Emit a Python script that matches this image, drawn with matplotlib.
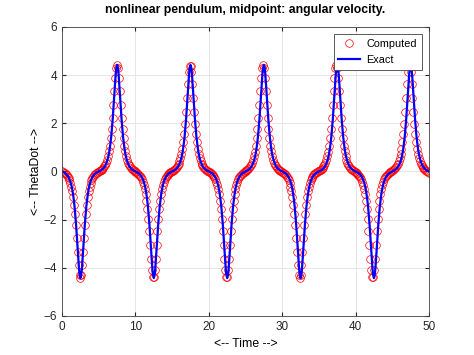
import numpy as np
import matplotlib
matplotlib.use("Agg")
import matplotlib.pyplot as plt

plt.rcParams['font.family'] = ['Liberation Sans', 'DejaVu Sans']

TITLE = "nonlinear pendulum, midpoint: angular velocity."
X_LABEL = "<-- Time -->"
Y_LABEL = "<-- ThetaDot -->"
LEGEND_LABELS = ["Computed", "Exact"]
X_TICKS = [0, 10, 20, 30, 40, 50]
Y_TICKS = [-6, -4, -2, 0, 2, 4, 6]

# exact solution, sampled every 0.1 time units from 0 to 50
exact_t_start, exact_t_end = 0.0, 50.0
exact_omega = [
    # 0 - 10
    0.00, -0.02, -0.03, -0.05, -0.07, -0.09, -0.12, -0.16, -0.20, -0.25,
    -0.32, -0.40, -0.50, -0.62, -0.77, -0.96, -1.19, -1.46, -1.80, -2.19,
    -2.64, -3.12, -3.60, -4.03, -4.32, -4.43, -4.32, -4.03, -3.60, -3.12,
    -2.64, -2.19, -1.80, -1.46, -1.19, -0.96, -0.77, -0.62, -0.50, -0.40,
    -0.32, -0.25, -0.20, -0.16, -0.12, -0.09, -0.07, -0.05, -0.03, -0.02,
    0.00, 0.02, 0.03, 0.05, 0.07, 0.09, 0.12, 0.16, 0.20, 0.25,
    0.32, 0.40, 0.50, 0.62, 0.77, 0.96, 1.19, 1.46, 1.80, 2.19,
    2.64, 3.12, 3.60, 4.03, 4.32, 4.43, 4.32, 4.03, 3.60, 3.12,
    2.64, 2.19, 1.80, 1.46, 1.19, 0.96, 0.77, 0.62, 0.50, 0.40,
    0.32, 0.25, 0.20, 0.16, 0.12, 0.09, 0.07, 0.05, 0.03, 0.02,
    # 10 - 20
    0.00, -0.02, -0.03, -0.05, -0.07, -0.09, -0.12, -0.16, -0.20, -0.25,
    -0.32, -0.40, -0.50, -0.62, -0.77, -0.96, -1.19, -1.46, -1.80, -2.19,
    -2.64, -3.12, -3.60, -4.03, -4.32, -4.43, -4.32, -4.03, -3.60, -3.12,
    -2.64, -2.19, -1.80, -1.46, -1.19, -0.96, -0.77, -0.62, -0.50, -0.40,
    -0.32, -0.25, -0.20, -0.16, -0.12, -0.09, -0.07, -0.05, -0.03, -0.02,
    0.00, 0.02, 0.03, 0.05, 0.07, 0.09, 0.12, 0.16, 0.20, 0.25,
    0.32, 0.40, 0.50, 0.62, 0.77, 0.96, 1.19, 1.46, 1.80, 2.19,
    2.64, 3.12, 3.60, 4.03, 4.32, 4.43, 4.32, 4.03, 3.60, 3.12,
    2.64, 2.19, 1.80, 1.46, 1.19, 0.96, 0.77, 0.62, 0.50, 0.40,
    0.32, 0.25, 0.20, 0.16, 0.12, 0.09, 0.07, 0.05, 0.03, 0.02,
    # 20 - 30
    0.00, -0.02, -0.03, -0.05, -0.07, -0.09, -0.12, -0.16, -0.20, -0.25,
    -0.32, -0.40, -0.50, -0.62, -0.77, -0.96, -1.19, -1.46, -1.80, -2.19,
    -2.64, -3.12, -3.60, -4.03, -4.32, -4.43, -4.32, -4.03, -3.60, -3.12,
    -2.64, -2.19, -1.80, -1.46, -1.19, -0.96, -0.77, -0.62, -0.50, -0.40,
    -0.32, -0.25, -0.20, -0.16, -0.12, -0.09, -0.07, -0.05, -0.03, -0.02,
    0.00, 0.02, 0.03, 0.05, 0.07, 0.09, 0.12, 0.16, 0.20, 0.25,
    0.32, 0.40, 0.50, 0.62, 0.77, 0.96, 1.19, 1.46, 1.80, 2.19,
    2.64, 3.12, 3.60, 4.03, 4.32, 4.43, 4.32, 4.03, 3.60, 3.12,
    2.64, 2.19, 1.80, 1.46, 1.19, 0.96, 0.77, 0.62, 0.50, 0.40,
    0.32, 0.25, 0.20, 0.16, 0.12, 0.09, 0.07, 0.05, 0.03, 0.02,
    # 30 - 40
    0.00, -0.02, -0.03, -0.05, -0.07, -0.09, -0.12, -0.16, -0.20, -0.25,
    -0.32, -0.40, -0.50, -0.62, -0.77, -0.96, -1.19, -1.46, -1.80, -2.19,
    -2.64, -3.12, -3.60, -4.03, -4.32, -4.43, -4.32, -4.03, -3.60, -3.12,
    -2.64, -2.19, -1.80, -1.46, -1.19, -0.96, -0.77, -0.62, -0.50, -0.40,
    -0.32, -0.25, -0.20, -0.16, -0.12, -0.09, -0.07, -0.05, -0.03, -0.02,
    0.00, 0.02, 0.03, 0.05, 0.07, 0.09, 0.12, 0.16, 0.20, 0.25,
    0.32, 0.40, 0.50, 0.62, 0.77, 0.96, 1.19, 1.46, 1.80, 2.19,
    2.64, 3.12, 3.60, 4.03, 4.32, 4.43, 4.32, 4.03, 3.60, 3.12,
    2.64, 2.19, 1.80, 1.46, 1.19, 0.96, 0.77, 0.62, 0.50, 0.40,
    0.32, 0.25, 0.20, 0.16, 0.12, 0.09, 0.07, 0.05, 0.03, 0.02,
    # 40 - 50
    0.00, -0.02, -0.03, -0.05, -0.07, -0.09, -0.12, -0.16, -0.20, -0.25,
    -0.32, -0.40, -0.50, -0.62, -0.77, -0.96, -1.19, -1.46, -1.80, -2.19,
    -2.64, -3.12, -3.60, -4.03, -4.32, -4.43, -4.32, -4.03, -3.60, -3.12,
    -2.64, -2.19, -1.80, -1.46, -1.19, -0.96, -0.77, -0.62, -0.50, -0.40,
    -0.32, -0.25, -0.20, -0.16, -0.12, -0.09, -0.07, -0.05, -0.03, -0.02,
    0.00, 0.02, 0.03, 0.05, 0.07, 0.09, 0.12, 0.16, 0.20, 0.25,
    0.32, 0.40, 0.50, 0.62, 0.77, 0.96, 1.19, 1.46, 1.80, 2.19,
    2.64, 3.12, 3.60, 4.03, 4.32, 4.43, 4.32, 4.03, 3.60, 3.12,
    2.64, 2.19, 1.80, 1.46, 1.19, 0.96, 0.77, 0.62, 0.50, 0.40,
    0.32, 0.25, 0.20, 0.16, 0.12, 0.09, 0.07, 0.05, 0.03, 0.02,
    0.00,
]

# midpoint method output, one value every 0.125 time units from 0 to 50
computed_t_start, computed_t_end = 0.0, 50.0
computed_omega = [
    # 0 - 5
    0.00, -0.02, -0.05, -0.08, -0.12, -0.16, -0.21, -0.28, -0.37, -0.49, -0.63,
    -0.83, -1.07, -1.38, -1.76, -2.22, -2.76, -3.34, -3.88, -4.28, -4.43,
    -4.28, -3.88, -3.34, -2.76, -2.22, -1.76, -1.38, -1.07, -0.83,
    -0.63, -0.49, -0.37, -0.28, -0.21, -0.16, -0.12, -0.08, -0.05, -0.02,
    # 5 - 10
    0.00, 0.02, 0.05, 0.08, 0.12, 0.16, 0.21, 0.28, 0.37, 0.49, 0.63,
    0.83, 1.07, 1.38, 1.76, 2.22, 2.76, 3.34, 3.88, 4.28, 4.43,
    4.28, 3.88, 3.34, 2.76, 2.22, 1.76, 1.38, 1.07, 0.83,
    0.63, 0.49, 0.37, 0.28, 0.21, 0.16, 0.11, 0.08, 0.05, 0.02,
    # 10 - 15
    -0.01, -0.03, -0.06, -0.10, -0.14, -0.18, -0.25, -0.33, -0.43, -0.56, -0.72,
    -0.94, -1.21, -1.56, -1.98, -2.49, -3.05, -3.62, -4.11, -4.39, -4.39,
    -4.11, -3.62, -3.05, -2.49, -1.98, -1.56, -1.21, -0.94, -0.73,
    -0.56, -0.43, -0.33, -0.25, -0.19, -0.14, -0.10, -0.07, -0.04, -0.01,
    # 15 - 20
    0.01, 0.04, 0.07, 0.10, 0.14, 0.19, 0.25, 0.33, 0.43, 0.56, 0.72,
    0.94, 1.21, 1.56, 1.98, 2.49, 3.05, 3.62, 4.11, 4.39, 4.39,
    4.11, 3.62, 3.05, 2.49, 1.98, 1.56, 1.21, 0.94, 0.73,
    0.56, 0.43, 0.33, 0.25, 0.19, 0.14, 0.10, 0.07, 0.04, 0.01,
    # 20 - 25
    -0.01, -0.04, -0.07, -0.10, -0.14, -0.19, -0.25, -0.33, -0.43, -0.56, -0.72,
    -0.94, -1.21, -1.56, -1.98, -2.49, -3.05, -3.62, -4.11, -4.39, -4.39,
    -4.11, -3.62, -3.05, -2.49, -1.98, -1.56, -1.21, -0.94, -0.73,
    -0.56, -0.43, -0.33, -0.25, -0.18, -0.14, -0.10, -0.06, -0.03, -0.01,
    # 25 - 30
    0.02, 0.05, 0.08, 0.11, 0.16, 0.21, 0.28, 0.37, 0.49, 0.63, 0.82,
    1.07, 1.38, 1.76, 2.22, 2.76, 3.34, 3.88, 4.28, 4.43, 4.28,
    3.88, 3.34, 2.76, 2.22, 1.76, 1.38, 1.07, 0.83, 0.64,
    0.49, 0.37, 0.28, 0.21, 0.16, 0.12, 0.08, 0.05, 0.02, 0.00,
    # 30 - 35
    -0.02, -0.05, -0.08, -0.12, -0.16, -0.21, -0.28, -0.37, -0.49, -0.63, -0.82,
    -1.07, -1.38, -1.76, -2.22, -2.76, -3.34, -3.88, -4.28, -4.43, -4.28,
    -3.88, -3.34, -2.76, -2.22, -1.76, -1.38, -1.07, -0.83, -0.64,
    -0.49, -0.37, -0.28, -0.21, -0.16, -0.12, -0.08, -0.05, -0.02, 0.00,
    # 35 - 40
    0.02, 0.05, 0.08, 0.12, 0.16, 0.21, 0.28, 0.37, 0.49, 0.63, 0.82,
    1.07, 1.38, 1.76, 2.22, 2.76, 3.34, 3.88, 4.28, 4.43, 4.28,
    3.88, 3.34, 2.76, 2.22, 1.76, 1.38, 1.07, 0.83, 0.64,
    0.49, 0.37, 0.28, 0.21, 0.16, 0.11, 0.08, 0.05, 0.02, -0.01,
    # 40 - 45
    -0.03, -0.06, -0.10, -0.14, -0.18, -0.25, -0.33, -0.43, -0.56, -0.72, -0.94,
    -1.21, -1.56, -1.98, -2.49, -3.05, -3.62, -4.11, -4.39, -4.39, -4.11,
    -3.62, -3.05, -2.49, -1.98, -1.56, -1.21, -0.94, -0.73, -0.56,
    -0.43, -0.33, -0.25, -0.19, -0.14, -0.10, -0.07, -0.04, -0.01, 0.01,
    # 45 - 50
    0.04, 0.07, 0.10, 0.14, 0.19, 0.25, 0.33, 0.43, 0.56, 0.72, 0.94,
    1.21, 1.56, 1.98, 2.49, 3.05, 3.62, 4.11, 4.39, 4.39, 4.11,
    3.62, 3.05, 2.49, 1.98, 1.56, 1.21, 0.94, 0.73, 0.56,
    0.43, 0.33, 0.25, 0.18, 0.14, 0.10, 0.06, 0.03, 0.01, -0.02,
    -0.05,
]

t_exact = np.linspace(exact_t_start, exact_t_end, len(exact_omega))
t_comp = np.linspace(computed_t_start, computed_t_end, len(computed_omega))

fig = plt.figure(figsize=(4.74, 3.55), dpi=100)
ax = fig.add_axes([0.131, 0.110, 0.774, 0.814])

ax.plot(t_comp, computed_omega, 'o', color='red', markerfacecolor='none',
        markersize=5.5, markeredgewidth=0.5, label=LEGEND_LABELS[0])
ax.plot(t_exact, exact_omega, '-', color='blue', linewidth=1.6,
        label=LEGEND_LABELS[1])

ax.set_xlim(0, 50)
ax.set_ylim(-6, 6)
ax.set_xticks(X_TICKS)
ax.set_yticks(Y_TICKS)
ax.grid(True, color='#e6e6e6', linewidth=0.7)
ax.set_axisbelow(True)
ax.tick_params(direction='in', length=3, labelsize=8.5, colors='#262626',
               top=True, right=True)
for sp in ax.spines.values():
    sp.set_color('#404040')
    sp.set_linewidth(0.6)

ax.set_title(TITLE, fontsize=8.8, fontweight='bold', pad=10)
ax.set_xlabel(X_LABEL, fontsize=8.8, labelpad=4)
ax.set_ylabel(Y_LABEL, fontsize=8.8, labelpad=1)

leg = ax.legend(loc='upper right', fontsize=7.8, fancybox=False,
                framealpha=1, edgecolor='#404040', borderaxespad=0.65,
                handlelength=2.0, handletextpad=0.6, borderpad=0.45,
                labelspacing=0.55)
leg.get_frame().set_linewidth(0.6)

fig.savefig('out.png', dpi=100)
